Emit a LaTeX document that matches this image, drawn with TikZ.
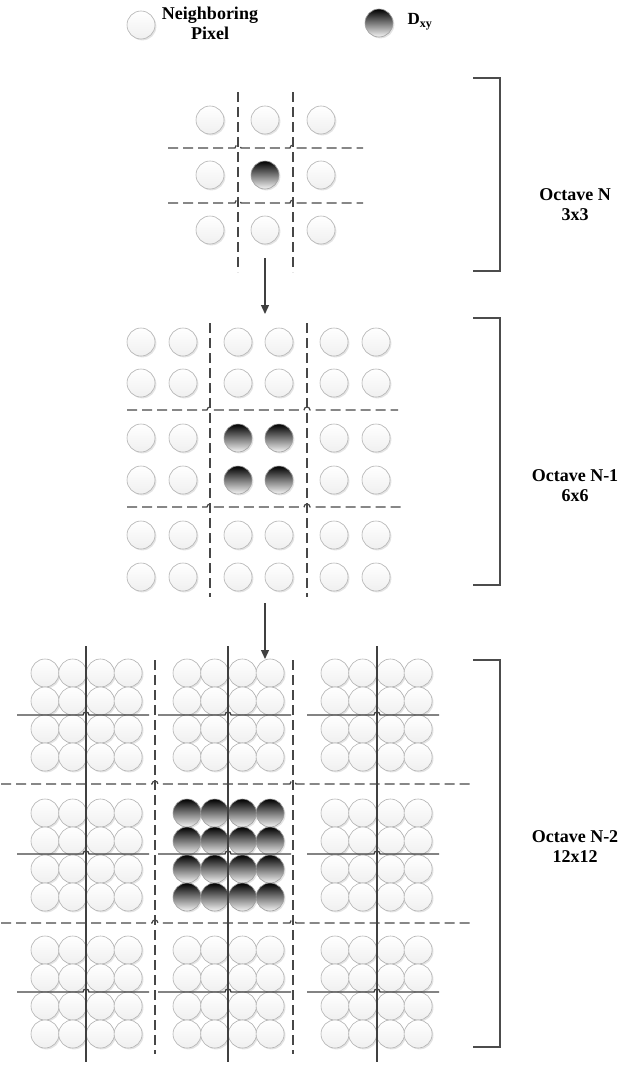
\documentclass[tikz,border=0pt]{standalone}
\usepackage{fontspec}
\setmainfont{Liberation Serif}
\usetikzlibrary{arrows.meta,shadows}

\tikzset{
  pix/.style={circle,minimum size=28pt,inner sep=0pt,line width=0.6pt,draw=gray!60,
    top color=white,bottom color=gray!12,
    drop shadow={opacity=0.22,shadow xshift=1.4pt,shadow yshift=-1.4pt}},
  dxy/.style={pix,draw=gray!75,top color=black,bottom color=gray!8},
  cutline/.style={line width=1.2pt,draw=black!72,dash pattern=on 10pt off 5pt},
  axisline/.style={line width=1.3pt,draw=black!75},
  brk/.style={line width=1.3pt,draw=black!70},
  flow/.style={line width=1.3pt,draw=black!75,-{Triangle[length=9pt,width=8pt]}},
  lab/.style={font=\bfseries\fontsize{18}{20}\selectfont,align=center},
}

\begin{document}
\begin{tikzpicture}[x=1pt,y=-1pt]
  \useasboundingbox (0,0) rectangle (634,1065);

  %Legend
  \node[pix] (legpix) at (141,25) {};
  \node[lab] (legpixtext) at (210,23) {Neighboring\\Pixel};
  \node[dxy] (legdxy) at (379,23) {};
  \node[lab,anchor=west,font=\bfseries\fontsize{17}{18}\selectfont] (legdxytext) at (404,22)
    {D\raisebox{-3pt}{\fontsize{12}{12}\selectfont xy}};

  %Octave N
  \foreach \i/\x in {1/210,2/265,3/321}
    \foreach \j/\y in {1/120,2/175,3/230}{
      \ifnum\i\j=22 \def\st{dxy}\else\def\st{pix}\fi
      \node[\st] (a\i\j) at (\x,\y) {};
    }
  \foreach \y in {148,203}
    \draw[cutline] (168,\y) -- (235,\y) arc[start angle=180,end angle=360,radius=3]
      -- (290,\y) arc[start angle=180,end angle=360,radius=3] -- (363,\y);
  \foreach \x in {238,293}
    \draw[cutline] (\x,92) -- (\x,272);

  \draw[brk] (473,78) -- (500,78) -- (500,271) -- (473,271);
  \node[lab] (octN) at (575,205) {Octave N\\3x3};

  \coordinate (arr1s) at (265,258);
  \coordinate (arr1e) at (265,314);
  \draw[flow] (arr1s) -- (arr1e);

  %Octave N-1
  \foreach \i/\x in {1/141,2/183,3/238,4/279,5/334,6/376}
    \foreach \j/\y in {1/342,2/383,3/438,4/480,5/535,6/577}{
      \def\st{pix}
      \ifnum\i>2 \ifnum\i<5 \ifnum\j>2 \ifnum\j<5 \def\st{dxy}\fi\fi\fi\fi
      \node[\st] (b\i\j) at (\x,\y) {};
    }
  \foreach \y/\e in {410/398,507/405}
    \draw[cutline] (127,\y) -- (207,\y) arc[start angle=180,end angle=360,radius=3]
      -- (304,\y) arc[start angle=180,end angle=360,radius=3] -- (\e,\y);
  \foreach \x in {210,307}
    \draw[cutline] (\x,323) -- (\x,597);

  \draw[brk] (473,318) -- (500,318) -- (500,585) -- (473,585);
  \node[lab] (octN1) at (575,486) {Octave N-1\\6x6};

  \coordinate (arr2s) at (265,603);
  \coordinate (arr2e) at (265,659);
  \draw[flow] (arr2s) -- (arr2e);

  %Octave N-2
  \foreach \p/\bx in {1/45,2/187,3/335}
    \foreach \q/\by in {1/673,2/813,3/950}
      \foreach \i in {0,...,3}
        \foreach \j in {0,...,3}{
          \ifnum\p\q=22 \def\st{dxy}\else\def\st{pix}\fi
          \node[\st] (c\p\q\i\j) at (\bx+27.7*\i,\by+28*\j) {};
        }
  %dashed cuts
  \foreach \y in {784,923}
    \draw[cutline] (1,\y) -- (152,\y) arc[start angle=180,end angle=360,radius=3]
      -- (290,\y) arc[start angle=180,end angle=360,radius=3] -- (473,\y);
  \foreach \x in {155,293}
    \draw[cutline] (\x,660) -- (\x,1054);
  %solid cuts
  \foreach \x in {86,228,377}
    \draw[axisline] (\x,646) -- (\x,1062);
  \foreach \y in {715,854,992}
    \foreach \a/\m/\b in {17/86/149,158/228/291,307/377/439}
      \draw[axisline] (\a,\y) -- (\m-3,\y) arc[start angle=180,end angle=360,radius=3] -- (\b,\y);

  \draw[brk] (473,660) -- (500,660) -- (500,1047) -- (473,1047);
  \node[lab] (octN2) at (575,847) {Octave N-2\\12x12};
\end{tikzpicture}
\end{document}
